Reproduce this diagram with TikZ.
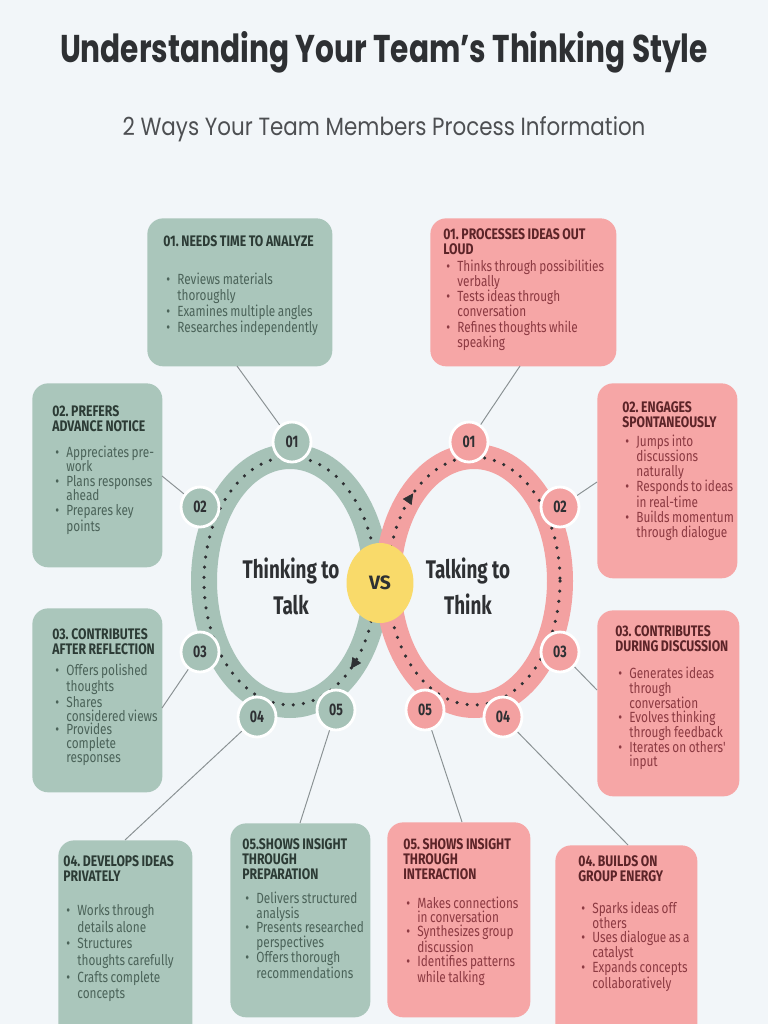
\documentclass[tikz,border=0pt]{standalone}
\usepackage{fontspec}
\usetikzlibrary{shapes.geometric,arrows.meta}
\setmainfont{Poppins}
\newfontfamily\cardfont[FakeStretch=0.8]{Fira Sans}
\newfontfamily\ringfont[FakeStretch=0.74]{Fira Sans}
\newfontfamily\plainfira{Fira Sans}
\newlength\pxu
\setlength\pxu{0.02cm}
\definecolor{paper}{HTML}{F2F6F9}
\definecolor{sage}{HTML}{A6C2B7}
\definecolor{sagebox}{HTML}{AAC6BB}
\definecolor{sagehead}{HTML}{2C3B35}
\definecolor{sagetext}{HTML}{4B6359}
\definecolor{rose}{HTML}{F3A1A1}
\definecolor{rosebox}{HTML}{F6A6A6}
\definecolor{rosehead}{HTML}{5C2428}
\definecolor{rosetext}{HTML}{8C3A42}
\definecolor{sun}{HTML}{F9DA6A}
\definecolor{ink}{HTML}{2E3033}
\definecolor{wiregrey}{HTML}{8A9193}
% card text helpers
\newcommand\chead[2]{{\color{\hcol}\fontsize{8.7}{15\pxu}\selectfont\bfseries\frenchspacing
  \spaceskip=0.17em plus 0.05em\relax #2\par}\vspace{#1\pxu}}
\newcommand\cbody[1]{\fontsize{8.4}{#1\pxu}\selectfont\frenchspacing\spaceskip=0.17em plus 0.05em\relax}
\newcommand\itm[1]{\par\hangindent=14\pxu\hangafter=1\noindent
  \hspace*{3\pxu}\makebox[11\pxu][l]{\textbullet}{\let\\\newline #1}}

\begin{document}
\begin{tikzpicture}[x=0.02cm, y=-0.02cm,
  card/.style={rounded corners=9pt, anchor=north west, inner sep=0pt},
  gcard/.style={card, fill=sagebox},
  rcard/.style={card, fill=rosebox},
  txt/.style={anchor=base west, inner sep=0pt, text width=4cm, font=\cardfont},
  gtxt/.style={txt, text=sagetext, execute at begin node={\def\hcol{sagehead}}},
  rtxt/.style={txt, text=rosetext, execute at begin node={\def\hcol{rosehead}}},
  badge/.style={ellipse, minimum width=0.76cm, minimum height=0.8cm, inner sep=0pt,
    draw=white, line width=1.6pt, text=ink, font=\ringfont\bfseries\fontsize{9.5}{10}\selectfont},
  gbadge/.style={badge, fill=sage},
  rbadge/.style={badge, fill=rose},
  ringlabel/.style={align=center, text=ink, font=\ringfont\bfseries\fontsize{14.5}{20.4}\selectfont},
  wire/.style={draw=wiregrey, line width=0.55pt},
  dots/.style={draw=ink, line width=2pt, line cap=round, dash pattern=on 0pt off 5.8pt},
  tip/.style={draw=ink, line width=0.4pt, -{Triangle[length=6pt,width=6pt]}}]

\clip (0,0) rectangle (768,1024);
\fill[paper] (0,0) rectangle (768,1024);

\node[anchor=base, text=ink] (title) at (384,63)
  {\resizebox{12.96cm}{0.62cm}{\bfseries Understanding Your Team's Thinking Style}};
\node[anchor=base, text=ink!85] (subtitle) at (384,135)
  {\resizebox{10.46cm}{0.38cm}{2 Ways Your Team Members Process Information}};

% two rings
\fill[sage, even odd rule] (290,581) ellipse [x radius=99, y radius=137]
  (290,581) ellipse [x radius=73, y radius=112];
\fill[rose, even odd rule] (474,581) ellipse [x radius=99, y radius=137]
  (474,581) ellipse [x radius=73, y radius=112];
\draw[dots] (290,581) ellipse [x radius=86, y radius=124];
\draw[dots] (474,581) ellipse [x radius=86, y radius=124];
\draw[tip] ([shift={(43:86 and 124)}]290,581) arc [start angle=43, end angle=45, x radius=86, y radius=124];
\draw[tip] ([shift={(223:86 and 124)}]474,581) arc [start angle=223, end angle=225, x radius=86, y radius=124];

\node[ringlabel] (think) at (291,586) {Thinking to\\Talk};
\node[ringlabel] (talk) at (468,586) {Talking to\\Think};
\node[ellipse, fill=sun, minimum width=1.34cm, minimum height=1.6cm, inner sep=0pt,
  text=ink, font=\plainfira\bfseries\fontsize{11}{12}\selectfont] (vs) at (380,583) {VS};

% badges
\foreach \n/\x/\y in {1/292/442,2/200/507,3/200/652,4/257/717,5/336/710}
  \node[gbadge] (g\n) at (\x,\y) {0\n};
\foreach \n/\x/\y in {1/469/442,2/560/507,3/560/652,4/503/717,5/425/710}
  \node[rbadge] (r\n) at (\x,\y) {0\n};

% cards, left side
\node[gcard, minimum width=3.7cm, minimum height=2.96cm] (gc1) at (147,218) {};
\node[gtxt] (gt1) at (163,246) {\chead{22}{01. NEEDS TIME TO ANALYZE}\cbody{16}%
  \itm{Reviews materials\\thoroughly}\itm{Examines multiple angles}\itm{Researches independently}\par};
\node[gcard, minimum width=2.6cm, minimum height=3.68cm] (gc2) at (32,383) {};
\node[gtxt] (gt2) at (52,416) {\chead{12}{02. PREFERS\\ADVANCE NOTICE}\cbody{14.4}%
  \itm{Appreciates pre-\\work}\itm{Plans responses\\ahead}\itm{Prepares key\\points}\par};
\node[gcard, minimum width=2.6cm, minimum height=3.68cm] (gc3) at (32,608) {};
\node[gtxt] (gt3) at (52,639) {\chead{8}{03. CONTRIBUTES\\AFTER REFLECTION}\cbody{13.7}%
  \itm{Offers polished\\thoughts}\itm{Shares\\considered views}\itm{Provides\\complete\\responses}\par};
\node[gcard, minimum width=2.68cm, minimum height=4.2cm] (gc4) at (58,840) {};
\node[gtxt] (gt4) at (63,866) {\chead{18}{04. DEVELOPS IDEAS\\PRIVATELY}\cbody{16.6}%
  \itm{Works through\\details alone}\itm{Structures\\thoughts carefully}\itm{Crafts complete\\concepts}\par};
\node[gcard, minimum width=2.8cm, minimum height=3.88cm] (gc5) at (230,823) {};
\node[gtxt] (gt5) at (242,849) {\chead{10}{05.SHOWS INSIGHT\\THROUGH\\PREPARATION}\cbody{14.6}%
  \itm{Delivers structured\\analysis}\itm{Presents researched\\perspectives}\itm{Offers thorough\\recommendations}\par};

% cards, right side
\node[rcard, minimum width=3.72cm, minimum height=2.96cm] (rc1) at (430,218) {};
\node[rtxt] (rt1) at (443,239) {\chead{2}{01. PROCESSES IDEAS OUT\\LOUD}\cbody{15.2}%
  \itm{Thinks through possibilities\\verbally}\itm{Tests ideas through\\conversation}\itm{Refines thoughts while\\speaking}\par};
\node[rcard, minimum width=2.8cm, minimum height=3.9cm] (rc2) at (597,383) {};
\node[rtxt] (rt2) at (622,412) {\chead{4}{02. ENGAGES\\SPONTANEOUSLY}\cbody{15.2}%
  \itm{Jumps into\\discussions\\naturally}\itm{Responds to ideas\\in real-time}\itm{Builds momentum\\through dialogue}\par};
\node[rcard, minimum width=2.84cm, minimum height=3.72cm] (rc3) at (597,610) {};
\node[rtxt] (rt3) at (615,636) {\chead{13}{03. CONTRIBUTES\\DURING DISCUSSION}\cbody{14.7}%
  \itm{Generates ideas\\through\\conversation}\itm{Evolves thinking\\through feedback}\itm{Iterates on others'\\input}\par};
\node[rcard, minimum width=2.84cm, minimum height=4.0cm] (rc4) at (555,845) {};
\node[rtxt] (rt4) at (578,866) {\chead{18}{04. BUILDS ON\\GROUP ENERGY}\cbody{14.6}%
  \itm{Sparks ideas off\\others}\itm{Uses dialogue as a\\catalyst}\itm{Expands concepts\\collaboratively}\par};
\node[rcard, minimum width=2.86cm, minimum height=3.9cm] (rc5) at (387,822) {};
\node[rtxt] (rt5) at (403,849) {\chead{15}{05. SHOWS INSIGHT\\THROUGH\\INTERACTION}\cbody{14}%
  \itm{Makes connections\\in conversation}\itm{Synthesizes group\\discussion}\itm{Identifies patterns\\while talking}\par};

% connectors
\foreach \n/\x/\y in {1/237/366,2/162/476,3/162/708,4/125/840,5/300/823}{
  \coordinate (ge\n) at (\x,\y);
  \draw[wire] (g\n) -- (ge\n);
}
\foreach \n/\x/\y in {1/520/366,2/597/482,3/597/690,4/628/845,5/462/822}{
  \coordinate (re\n) at (\x,\y);
  \draw[wire] (r\n) -- (re\n);
}
\end{tikzpicture}
\end{document}
